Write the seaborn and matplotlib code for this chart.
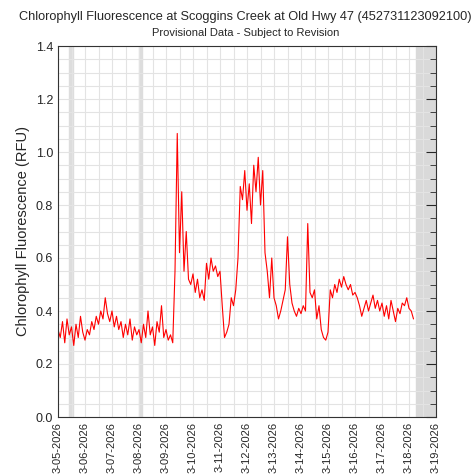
import numpy as np
import pandas as pd
import matplotlib
matplotlib.use("Agg")
import matplotlib.pyplot as plt
import matplotlib.dates as mdates
import seaborn as sns

# 2-hourly readings starting 2026-03-05 00:00
day05 = [.33, .30, .36, .28, .37, .31, .34, .27, .35, .30, .38, .32]
day06 = [.29, .33, .31, .36, .33, .38, .35, .40, .37, .45, .39, .36]
day07 = [.40, .34, .38, .33, .36, .30, .35, .31, .37, .29, .34, .31]
day08 = [.33, .28, .35, .30, .40, .31, .34, .27, .36, .32, .42, .30]
day09 = [.33, .29, .31, .28, .55, 1.07, .62, .85, .55, .70, .52, .50]
day10 = [.54, .47, .52, .45, .48, .44, .58, .52, .60, .55, .57, .53]
day11 = [.55, .42, .30, .32, .35, .45, .42, .48, .60, .87, .82, .93]
day12 = [.78, .88, .73, .95, .85, .98, .80, .93, .62, .55, .45, .60]
day13 = [.45, .42, .37, .40, .44, .48, .68, .50, .43, .40, .38, .41]
day14 = [.39, .42, .40, .73, .47, .45, .48, .37, .42, .33, .30, .29]
day15 = [.32, .48, .45, .50, .47, .52, .49, .53, .50, .48, .50, .46]
day16 = [.47, .45, .42, .38, .41, .44, .40, .43, .46, .41, .44, .40]
day17 = [.43, .38, .42, .37, .44, .40, .36, .41, .39, .43, .42, .45]
day18 = [.41, .40, .37]

values = day05 + day06 + day07 + day08 + day09 + day10 + day11 + day12 + day13 + day14 + day15 + day16 + day17 + day18
times = pd.date_range("2026-03-05 00:00", periods=len(values), freq="2h")
df = pd.DataFrame({"time": times, "rfu": values})

sns.set_style("white")
plt.rcParams['font.family'] = ['Liberation Sans', 'DejaVu Sans']

fig = plt.figure(figsize=(4.74, 4.74), dpi=100)
ax = fig.add_axes([58 / 474, 57 / 474, 378 / 474, 371 / 474])

start = pd.Timestamp("2026-03-05")
end = pd.Timestamp("2026-03-19")
ax.set_xlim(start, end)
ax.set_ylim(0, 1.4)

# gap bands
ax.axvspan(pd.Timestamp("2026-03-05 10:00"), pd.Timestamp("2026-03-05 13:00"), color="#dddddd", zorder=0)
ax.axvspan(pd.Timestamp("2026-03-08 00:00"), pd.Timestamp("2026-03-08 02:30"), color="#dddddd", zorder=0)
ax.axvspan(pd.Timestamp("2026-03-18 06:30"), end, color="#d9d9d9", zorder=0)

sns.lineplot(data=df, x="time", y="rfu", color="red", linewidth=0.8, ax=ax)

ax.xaxis.set_major_locator(mdates.DayLocator())
ax.xaxis.set_minor_locator(mdates.HourLocator(byhour=[12]))
ax.xaxis.set_major_formatter(mdates.DateFormatter("%-m-%d-%Y"))
ax.set_yticks(np.arange(0, 1.41, 0.2))
ax.set_yticks(np.arange(0, 1.41, 0.05), minor=True)
ax.grid(True, which="both", color="#e3e3e3", linewidth=0.8, zorder=0)
ax.set_axisbelow(True)
ax.tick_params(axis="x", which="major", direction="in", length=7, labelsize=8, rotation=90, top=False)
ax.tick_params(axis="x", which="minor", direction="in", length=4)
ax.tick_params(axis="y", which="major", direction="in", length=7, labelsize=9)
ax.tick_params(axis="y", which="minor", direction="in", length=4)
ax.tick_params(axis="y", which="both", right=True)
ax.yaxis.set_major_formatter(matplotlib.ticker.FormatStrFormatter("%.1f"))
for s in ax.spines.values():
    s.set_color("#333333")
    s.set_linewidth(0.8)

ax.set_xlabel("")
ax.set_ylabel("Chlorophyll Fluorescence (RFU)", fontsize=10.5)
fig.text(0.518, 0.965, "Chlorophyll Fluorescence at Scoggins Creek at Old Hwy 47 (452731123092100)",
         ha="center", va="center", fontsize=9.2)
fig.text(0.518, 0.93, "Provisional Data - Subject to Revision", ha="center", va="center", fontsize=8)

fig.savefig("out.png", dpi=100)
